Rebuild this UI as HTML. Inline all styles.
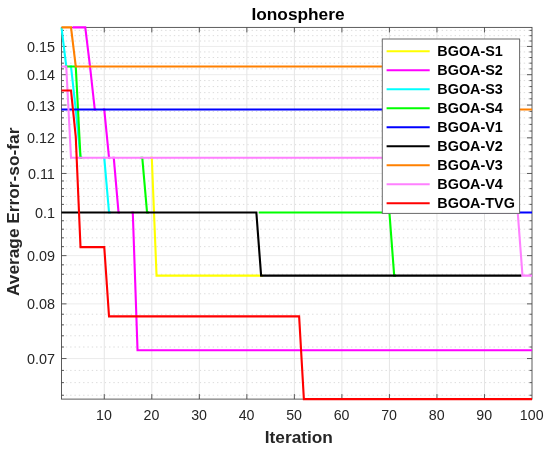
<!DOCTYPE html>
<html><head><meta charset="utf-8"><title>Ionosphere</title>
<style>html,body{margin:0;padding:0;background:#fff}body{width:550px;height:452px;overflow:hidden}</style></head>
<body>
<svg width="550" height="452" viewBox="0 0 550 452" style="display:block;font-family:'Liberation Sans',Arial,sans-serif">
<rect x="0" y="0" width="550" height="452" fill="#fff"/>
<g stroke="#dcdcdc" stroke-width="1" stroke-dasharray="1.4 2.92" fill="none">
<line x1="61.5" x2="532.0" y1="395.24" y2="395.24"/>
<line x1="61.5" x2="532.0" y1="382.64" y2="382.64"/>
<line x1="61.5" x2="532.0" y1="370.42" y2="370.42"/>
<line x1="61.5" x2="532.0" y1="347.01" y2="347.01"/>
<line x1="61.5" x2="532.0" y1="335.79" y2="335.79"/>
<line x1="61.5" x2="532.0" y1="324.87" y2="324.87"/>
<line x1="61.5" x2="532.0" y1="314.23" y2="314.23"/>
<line x1="61.5" x2="532.0" y1="293.75" y2="293.75"/>
<line x1="61.5" x2="532.0" y1="283.89" y2="283.89"/>
<line x1="61.5" x2="532.0" y1="274.25" y2="274.25"/>
<line x1="61.5" x2="532.0" y1="264.84" y2="264.84"/>
<line x1="61.5" x2="532.0" y1="246.63" y2="246.63"/>
<line x1="61.5" x2="532.0" y1="237.83" y2="237.83"/>
<line x1="61.5" x2="532.0" y1="229.20" y2="229.20"/>
<line x1="61.5" x2="532.0" y1="220.76" y2="220.76"/>
<line x1="61.5" x2="532.0" y1="204.38" y2="204.38"/>
<line x1="61.5" x2="532.0" y1="196.43" y2="196.43"/>
<line x1="61.5" x2="532.0" y1="188.63" y2="188.63"/>
<line x1="61.5" x2="532.0" y1="180.97" y2="180.97"/>
<line x1="61.5" x2="532.0" y1="166.08" y2="166.08"/>
<line x1="61.5" x2="532.0" y1="158.83" y2="158.83"/>
<line x1="61.5" x2="532.0" y1="151.71" y2="151.71"/>
<line x1="61.5" x2="532.0" y1="144.71" y2="144.71"/>
<line x1="61.5" x2="532.0" y1="131.06" y2="131.06"/>
<line x1="61.5" x2="532.0" y1="124.40" y2="124.40"/>
<line x1="61.5" x2="532.0" y1="117.85" y2="117.85"/>
<line x1="61.5" x2="532.0" y1="111.40" y2="111.40"/>
<line x1="61.5" x2="532.0" y1="98.80" y2="98.80"/>
<line x1="61.5" x2="532.0" y1="92.64" y2="92.64"/>
<line x1="61.5" x2="532.0" y1="86.57" y2="86.57"/>
<line x1="61.5" x2="532.0" y1="80.59" y2="80.59"/>
<line x1="61.5" x2="532.0" y1="68.89" y2="68.89"/>
<line x1="61.5" x2="532.0" y1="63.17" y2="63.17"/>
<line x1="61.5" x2="532.0" y1="57.52" y2="57.52"/>
<line x1="61.5" x2="532.0" y1="51.95" y2="51.95"/>
<line x1="61.5" x2="532.0" y1="41.03" y2="41.03"/>
<line x1="61.5" x2="532.0" y1="35.67" y2="35.67"/>
<line x1="61.5" x2="532.0" y1="30.39" y2="30.39"/>
</g>
<g stroke="#ececec" stroke-width="1" fill="none">
<line x1="61.5" x2="532.0" y1="358.55" y2="358.55"/>
<line x1="61.5" x2="532.0" y1="303.87" y2="303.87"/>
<line x1="61.5" x2="532.0" y1="255.63" y2="255.63"/>
<line x1="61.5" x2="532.0" y1="212.49" y2="212.49"/>
<line x1="61.5" x2="532.0" y1="173.46" y2="173.46"/>
<line x1="61.5" x2="532.0" y1="137.83" y2="137.83"/>
<line x1="61.5" x2="532.0" y1="105.05" y2="105.05"/>
<line x1="61.5" x2="532.0" y1="74.70" y2="74.70"/>
<line x1="61.5" x2="532.0" y1="46.45" y2="46.45"/>
</g><g stroke="#e5e5e5" stroke-width="1" fill="none">
<line x1="104.27" x2="104.27" y1="27.4" y2="399.1"/>
<line x1="151.80" x2="151.80" y1="27.4" y2="399.1"/>
<line x1="199.32" x2="199.32" y1="27.4" y2="399.1"/>
<line x1="246.85" x2="246.85" y1="27.4" y2="399.1"/>
<line x1="294.37" x2="294.37" y1="27.4" y2="399.1"/>
<line x1="341.90" x2="341.90" y1="27.4" y2="399.1"/>
<line x1="389.42" x2="389.42" y1="27.4" y2="399.1"/>
<line x1="436.95" x2="436.95" y1="27.4" y2="399.1"/>
<line x1="484.47" x2="484.47" y1="27.4" y2="399.1"/>
</g>
<g stroke="#4a4a4a" stroke-width="0.9" fill="none">
<rect x="61.5" y="27.4" width="470.5" height="371.70000000000005"/>
<line x1="104.27" x2="104.27" y1="399.1" y2="394.1"/><line x1="104.27" x2="104.27" y1="27.4" y2="32.4"/>
<line x1="151.80" x2="151.80" y1="399.1" y2="394.1"/><line x1="151.80" x2="151.80" y1="27.4" y2="32.4"/>
<line x1="199.32" x2="199.32" y1="399.1" y2="394.1"/><line x1="199.32" x2="199.32" y1="27.4" y2="32.4"/>
<line x1="246.85" x2="246.85" y1="399.1" y2="394.1"/><line x1="246.85" x2="246.85" y1="27.4" y2="32.4"/>
<line x1="294.37" x2="294.37" y1="399.1" y2="394.1"/><line x1="294.37" x2="294.37" y1="27.4" y2="32.4"/>
<line x1="341.90" x2="341.90" y1="399.1" y2="394.1"/><line x1="341.90" x2="341.90" y1="27.4" y2="32.4"/>
<line x1="389.42" x2="389.42" y1="399.1" y2="394.1"/><line x1="389.42" x2="389.42" y1="27.4" y2="32.4"/>
<line x1="436.95" x2="436.95" y1="399.1" y2="394.1"/><line x1="436.95" x2="436.95" y1="27.4" y2="32.4"/>
<line x1="484.47" x2="484.47" y1="399.1" y2="394.1"/><line x1="484.47" x2="484.47" y1="27.4" y2="32.4"/>
<line x1="61.5" x2="66.5" y1="358.55" y2="358.55"/><line x1="532.0" x2="527.0" y1="358.55" y2="358.55"/>
<line x1="61.5" x2="66.5" y1="303.87" y2="303.87"/><line x1="532.0" x2="527.0" y1="303.87" y2="303.87"/>
<line x1="61.5" x2="66.5" y1="255.63" y2="255.63"/><line x1="532.0" x2="527.0" y1="255.63" y2="255.63"/>
<line x1="61.5" x2="66.5" y1="212.49" y2="212.49"/><line x1="532.0" x2="527.0" y1="212.49" y2="212.49"/>
<line x1="61.5" x2="66.5" y1="173.46" y2="173.46"/><line x1="532.0" x2="527.0" y1="173.46" y2="173.46"/>
<line x1="61.5" x2="66.5" y1="137.83" y2="137.83"/><line x1="532.0" x2="527.0" y1="137.83" y2="137.83"/>
<line x1="61.5" x2="66.5" y1="105.05" y2="105.05"/><line x1="532.0" x2="527.0" y1="105.05" y2="105.05"/>
<line x1="61.5" x2="66.5" y1="74.70" y2="74.70"/><line x1="532.0" x2="527.0" y1="74.70" y2="74.70"/>
<line x1="61.5" x2="66.5" y1="46.45" y2="46.45"/><line x1="532.0" x2="527.0" y1="46.45" y2="46.45"/>
<line x1="61.5" x2="64.0" y1="395.24" y2="395.24"/><line x1="532.0" x2="529.5" y1="395.24" y2="395.24"/>
<line x1="61.5" x2="64.0" y1="382.64" y2="382.64"/><line x1="532.0" x2="529.5" y1="382.64" y2="382.64"/>
<line x1="61.5" x2="64.0" y1="370.42" y2="370.42"/><line x1="532.0" x2="529.5" y1="370.42" y2="370.42"/>
<line x1="61.5" x2="64.0" y1="347.01" y2="347.01"/><line x1="532.0" x2="529.5" y1="347.01" y2="347.01"/>
<line x1="61.5" x2="64.0" y1="335.79" y2="335.79"/><line x1="532.0" x2="529.5" y1="335.79" y2="335.79"/>
<line x1="61.5" x2="64.0" y1="324.87" y2="324.87"/><line x1="532.0" x2="529.5" y1="324.87" y2="324.87"/>
<line x1="61.5" x2="64.0" y1="314.23" y2="314.23"/><line x1="532.0" x2="529.5" y1="314.23" y2="314.23"/>
<line x1="61.5" x2="64.0" y1="293.75" y2="293.75"/><line x1="532.0" x2="529.5" y1="293.75" y2="293.75"/>
<line x1="61.5" x2="64.0" y1="283.89" y2="283.89"/><line x1="532.0" x2="529.5" y1="283.89" y2="283.89"/>
<line x1="61.5" x2="64.0" y1="274.25" y2="274.25"/><line x1="532.0" x2="529.5" y1="274.25" y2="274.25"/>
<line x1="61.5" x2="64.0" y1="264.84" y2="264.84"/><line x1="532.0" x2="529.5" y1="264.84" y2="264.84"/>
<line x1="61.5" x2="64.0" y1="246.63" y2="246.63"/><line x1="532.0" x2="529.5" y1="246.63" y2="246.63"/>
<line x1="61.5" x2="64.0" y1="237.83" y2="237.83"/><line x1="532.0" x2="529.5" y1="237.83" y2="237.83"/>
<line x1="61.5" x2="64.0" y1="229.20" y2="229.20"/><line x1="532.0" x2="529.5" y1="229.20" y2="229.20"/>
<line x1="61.5" x2="64.0" y1="220.76" y2="220.76"/><line x1="532.0" x2="529.5" y1="220.76" y2="220.76"/>
<line x1="61.5" x2="64.0" y1="204.38" y2="204.38"/><line x1="532.0" x2="529.5" y1="204.38" y2="204.38"/>
<line x1="61.5" x2="64.0" y1="196.43" y2="196.43"/><line x1="532.0" x2="529.5" y1="196.43" y2="196.43"/>
<line x1="61.5" x2="64.0" y1="188.63" y2="188.63"/><line x1="532.0" x2="529.5" y1="188.63" y2="188.63"/>
<line x1="61.5" x2="64.0" y1="180.97" y2="180.97"/><line x1="532.0" x2="529.5" y1="180.97" y2="180.97"/>
<line x1="61.5" x2="64.0" y1="166.08" y2="166.08"/><line x1="532.0" x2="529.5" y1="166.08" y2="166.08"/>
<line x1="61.5" x2="64.0" y1="158.83" y2="158.83"/><line x1="532.0" x2="529.5" y1="158.83" y2="158.83"/>
<line x1="61.5" x2="64.0" y1="151.71" y2="151.71"/><line x1="532.0" x2="529.5" y1="151.71" y2="151.71"/>
<line x1="61.5" x2="64.0" y1="144.71" y2="144.71"/><line x1="532.0" x2="529.5" y1="144.71" y2="144.71"/>
<line x1="61.5" x2="64.0" y1="131.06" y2="131.06"/><line x1="532.0" x2="529.5" y1="131.06" y2="131.06"/>
<line x1="61.5" x2="64.0" y1="124.40" y2="124.40"/><line x1="532.0" x2="529.5" y1="124.40" y2="124.40"/>
<line x1="61.5" x2="64.0" y1="117.85" y2="117.85"/><line x1="532.0" x2="529.5" y1="117.85" y2="117.85"/>
<line x1="61.5" x2="64.0" y1="111.40" y2="111.40"/><line x1="532.0" x2="529.5" y1="111.40" y2="111.40"/>
<line x1="61.5" x2="64.0" y1="98.80" y2="98.80"/><line x1="532.0" x2="529.5" y1="98.80" y2="98.80"/>
<line x1="61.5" x2="64.0" y1="92.64" y2="92.64"/><line x1="532.0" x2="529.5" y1="92.64" y2="92.64"/>
<line x1="61.5" x2="64.0" y1="86.57" y2="86.57"/><line x1="532.0" x2="529.5" y1="86.57" y2="86.57"/>
<line x1="61.5" x2="64.0" y1="80.59" y2="80.59"/><line x1="532.0" x2="529.5" y1="80.59" y2="80.59"/>
<line x1="61.5" x2="64.0" y1="68.89" y2="68.89"/><line x1="532.0" x2="529.5" y1="68.89" y2="68.89"/>
<line x1="61.5" x2="64.0" y1="63.17" y2="63.17"/><line x1="532.0" x2="529.5" y1="63.17" y2="63.17"/>
<line x1="61.5" x2="64.0" y1="57.52" y2="57.52"/><line x1="532.0" x2="529.5" y1="57.52" y2="57.52"/>
<line x1="61.5" x2="64.0" y1="51.95" y2="51.95"/><line x1="532.0" x2="529.5" y1="51.95" y2="51.95"/>
<line x1="61.5" x2="64.0" y1="41.03" y2="41.03"/><line x1="532.0" x2="529.5" y1="41.03" y2="41.03"/>
<line x1="61.5" x2="64.0" y1="35.67" y2="35.67"/><line x1="532.0" x2="529.5" y1="35.67" y2="35.67"/>
<line x1="61.5" x2="64.0" y1="30.39" y2="30.39"/><line x1="532.0" x2="529.5" y1="30.39" y2="30.39"/>
</g>
<g fill="none" stroke-width="2.1" stroke-linejoin="miter">
<polyline stroke="#FFFF00" points="149.90,157.81 151.80,157.81 156.55,275.61 263.01,275.61"/>
<polyline stroke="#FF00FF" points="72.43,27.40 85.26,27.40 90.02,66.43 94.77,109.57 96.19,109.57"/>
<polyline stroke="#FF00FF" points="102.85,109.57 104.27,109.57 109.03,157.81 110.45,157.81"/>
<polyline stroke="#FF00FF" points="112.35,157.81 113.78,157.81 118.53,212.49 119.96,212.49"/>
<polyline stroke="#FF00FF" points="131.36,212.49 132.79,212.49 137.54,350.27 532.00,350.27"/>
<polyline stroke="#00FFFF" points="61.50,27.40 66.25,66.43 67.68,66.43"/>
<polyline stroke="#00FFFF" points="69.58,66.43 71.01,66.43 75.76,109.57 80.51,157.81 81.94,157.81"/>
<polyline stroke="#00FFFF" points="102.85,157.81 104.27,157.81 109.03,212.49 110.93,212.49"/>
<polyline stroke="#00FF00" points="64.83,66.43 75.76,66.43 80.51,157.81 82.41,157.81"/>
<polyline stroke="#00FF00" points="140.39,157.81 142.29,157.81 147.05,212.49 148.95,212.49"/>
<polyline stroke="#00FF00" points="258.73,212.49 389.42,212.49 394.18,275.61 396.08,275.61"/>
<polyline stroke="#0000FF" points="61.50,109.57 436.95,109.57 441.70,212.49 532.00,212.49"/>
<polyline stroke="#000000" points="61.50,212.49 256.35,212.49 261.11,275.61 521.54,275.61"/>
<polyline stroke="#FF8000" points="61.50,27.40 71.01,27.40 75.76,66.43 460.71,66.43 465.46,109.57 532.00,109.57"/>
<polyline stroke="#FF80FF" points="61.50,66.43 66.25,66.43 71.01,157.81 484.47,157.81 489.23,212.49 517.74,212.49 522.49,275.61 532.00,275.61"/>
<polyline stroke="#FF0000" points="61.50,90.51 71.01,90.51 75.76,136.80 80.51,247.08 104.27,247.08 109.03,316.34 299.13,316.34 303.88,399.10 532.00,399.10"/>
</g>
<g fill="#262626" font-size="14.2px">
<text x="103.97" y="420" text-anchor="middle">10</text>
<text x="151.50" y="420" text-anchor="middle">20</text>
<text x="199.02" y="420" text-anchor="middle">30</text>
<text x="246.55" y="420" text-anchor="middle">40</text>
<text x="294.07" y="420" text-anchor="middle">50</text>
<text x="341.60" y="420" text-anchor="middle">60</text>
<text x="389.12" y="420" text-anchor="middle">70</text>
<text x="436.65" y="420" text-anchor="middle">80</text>
<text x="484.17" y="420" text-anchor="middle">90</text>
<text x="531.70" y="420" text-anchor="middle">100</text>
<text x="54.9" y="364.05" text-anchor="end" font-size="14.4px">0.07</text>
<text x="54.9" y="309.37" text-anchor="end" font-size="14.4px">0.08</text>
<text x="54.9" y="261.13" text-anchor="end" font-size="14.4px">0.09</text>
<text x="54.9" y="217.99" text-anchor="end" font-size="14.4px">0.1</text>
<text x="54.9" y="178.96" text-anchor="end" font-size="14.4px">0.11</text>
<text x="54.9" y="143.33" text-anchor="end" font-size="14.4px">0.12</text>
<text x="54.9" y="110.55" text-anchor="end" font-size="14.4px">0.13</text>
<text x="54.9" y="80.20" text-anchor="end" font-size="14.4px">0.14</text>
<text x="54.9" y="51.95" text-anchor="end" font-size="14.4px">0.15</text>
</g>
<g fill="#262626" font-weight="bold" font-size="17.3px">
<text x="298" y="19.65" text-anchor="middle" fill="#000">Ionosphere</text>
<text x="298.85" y="443.4" text-anchor="middle">Iteration</text>
<text transform="translate(19.2,211.85) rotate(-90)" text-anchor="middle">Average Error-so-far</text>
</g>
<rect x="382.3" y="39" width="137.3" height="174.4" fill="#fff" stroke="#6a6a6a" stroke-width="1"/>
<g font-weight="bold" font-size="14.4px" fill="#000">
<line x1="386.6" x2="429.7" y1="51.30" y2="51.30" stroke="#FFFF00" stroke-width="2"/>
<text x="437.3" y="56.40">BGOA-S1</text>
<line x1="386.6" x2="429.7" y1="70.30" y2="70.30" stroke="#FF00FF" stroke-width="2"/>
<text x="437.3" y="75.40">BGOA-S2</text>
<line x1="386.6" x2="429.7" y1="89.30" y2="89.30" stroke="#00FFFF" stroke-width="2"/>
<text x="437.3" y="94.40">BGOA-S3</text>
<line x1="386.6" x2="429.7" y1="108.30" y2="108.30" stroke="#00FF00" stroke-width="2"/>
<text x="437.3" y="113.40">BGOA-S4</text>
<line x1="386.6" x2="429.7" y1="127.30" y2="127.30" stroke="#0000FF" stroke-width="2"/>
<text x="437.3" y="132.40">BGOA-V1</text>
<line x1="386.6" x2="429.7" y1="146.30" y2="146.30" stroke="#000000" stroke-width="2"/>
<text x="437.3" y="151.40">BGOA-V2</text>
<line x1="386.6" x2="429.7" y1="165.30" y2="165.30" stroke="#FF8000" stroke-width="2"/>
<text x="437.3" y="170.40">BGOA-V3</text>
<line x1="386.6" x2="429.7" y1="184.30" y2="184.30" stroke="#FF80FF" stroke-width="2"/>
<text x="437.3" y="189.40">BGOA-V4</text>
<line x1="386.6" x2="429.7" y1="203.30" y2="203.30" stroke="#FF0000" stroke-width="2"/>
<text x="437.3" y="208.40">BGOA-TVG</text>
</g>
</svg>
</body></html>
